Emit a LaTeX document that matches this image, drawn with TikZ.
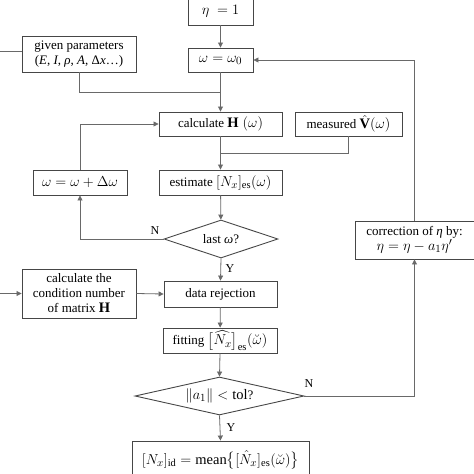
\documentclass[tikz,border=0pt]{standalone}
\usepackage{amsmath, amssymb}
\usepackage{fontspec}
\setmainfont{Liberation Serif}
\usetikzlibrary{arrows.meta, shapes.geometric}
\DeclareMathSizes{13}{14.5}{10.5}{8}
\definecolor{lineGray}{RGB}{105, 105, 105}
\definecolor{boxGray}{RGB}{70, 70, 70}

\begin{document}
\begin{tikzpicture}[x=1pt, y=-1pt,
    font=\fontsize{13}{15}\selectfont,
    proc/.style={draw=boxGray, line width=0.9pt, align=center, inner sep=1pt},
    decide/.style={draw=boxGray, line width=0.9pt, diamond, aspect=3, inner sep=0pt},
    flow/.style={draw=lineGray, line width=0.8pt, -{Triangle[length=5pt, width=5pt]}},
    link/.style={draw=lineGray, line width=0.8pt}]
      \useasboundingbox (0,0) rectangle (474,474);
      \clip (0,0) rectangle (474,474);

      % Main column
      \node[proc, minimum width=65, minimum height=28] (eta) at (220.5,11) {$\eta\;=1$};
      \node[proc, minimum width=65, minimum height=24] (omg0) at (220.5,60) {$\omega=\omega_0$};
      \node[proc, minimum width=114, minimum height=36] (param) at (79,54) {given parameters\\(\textit{E}, \textit{I}, \textit{ρ}, \textit{A}, Δ\textit{x}…)};
      \node[proc, minimum width=123, minimum height=24] (calcH) at (220.5,124) {calculate $\mathbf{H}\;(\omega)$};
      \node[proc, minimum width=107, minimum height=24] (meas) at (348.5,124) {measured $\hat{\mathbf{V}}(\omega)$};
      \node[proc, minimum width=123, minimum height=25] (est) at (220.5,182.5) {estimate $[N_x]_{\mathrm{es}}(\omega)$};
      \node[proc, minimum width=94, minimum height=25] (incr) at (80,182.5) {$\omega=\omega+\Delta\omega$};
      \node[decide, minimum width=114, minimum height=38] (last) at (221,239) {last \textit{ω}?};
      \node[proc, minimum width=114, minimum height=49] (cond) at (79,293.5) {calculate the\\condition number\\of matrix $\mathbf{H}$};
      \node[proc, minimum width=113, minimum height=26] (rej) at (220.5,294) {data rejection};
      \node[proc, minimum width=114, minimum height=25] (fit) at (220,340.5) {fitting $\bigl[\widehat{N_x}\bigr]_{\mathrm{es}}(\breve{\omega})$};
      \node[decide, minimum width=169, minimum height=38] (tol) at (219.5,396) {$\|a_1\|<\mathrm{tol}$?};
      \node[proc, minimum width=119, minimum height=38] (corr) at (414.5,240) {correction of \textit{η} by:\\$\eta=\eta-a_1\eta'$};
      \node[proc, minimum width=177, minimum height=38] (final) at (220.5,460) {$[N_x]_{\mathrm{id}}=\mathrm{mean}\bigl\{[\hat{N}_x]_{\mathrm{es}}(\breve{\omega})\bigr\}$};

      % Junctions and free ends
      \coordinate (j1) at (220.5,92);
      \coordinate (j2) at (220.5,153);
      \coordinate (inP) at (0,51);
      \coordinate (inC) at (0,293.5);

      % Connectors
      \draw[flow] (eta) -- (omg0);
      \draw[flow] (omg0) -- (calcH);
      \draw[link] (param.south) |- (j1);
      \draw[link] (inP) -- (inP -| param.west);
      \draw[flow] (calcH) -- (est);
      \draw[link] (meas.south) |- (j2);
      \draw[flow] (est) -- (last);
      \draw[flow] (last.west) -| (incr.south);
      \node[font=\fontsize{12}{14}\selectfont] (lblN1) at (155,231) {N};
      \draw[flow] (incr.north) |- (calcH.west);
      \draw[flow] (last.south) -- (rej.north);
      \node[font=\fontsize{12}{14}\selectfont] (lblY1) at (230,269) {Y};
      \draw[flow] (inC) -- (cond.west);
      \draw[flow] (cond.east) -- (rej.west);
      \draw[flow] (rej) -- (fit);
      \draw[flow] (fit.south) -- (tol.north);
      \draw[flow] (tol.east) -| (corr.south);
      \node[font=\fontsize{12}{14}\selectfont] (lblN2) at (309,384) {N};
      \draw[flow] (corr.north) |- (omg0.east);
      \draw[flow] (tol.south) -- (final.north);
      \node[font=\fontsize{12}{14}\selectfont] (lblY2) at (231,428) {Y};
    \end{tikzpicture}
\end{document}
